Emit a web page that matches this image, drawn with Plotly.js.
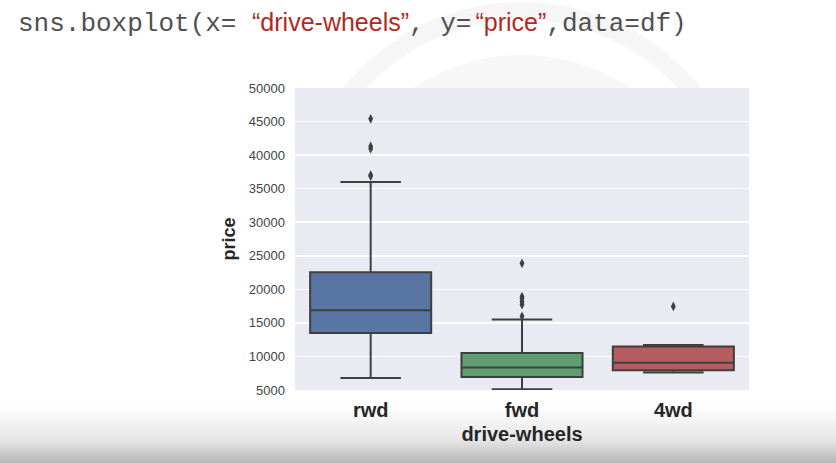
<!DOCTYPE html>
<html>
<head>
<meta charset="utf-8">
<script src="https://cdn.plot.ly/plotly-3.0.1.min.js"></script>
<style>
  html, body { margin: 0; padding: 0; background: #ffffff; }
  #wrap { position: relative; width: 836px; height: 463px; overflow: hidden;
          background: linear-gradient(to bottom, #ffffff 0px, #ffffff 405px, #e6e6e6 440px, #b6b6b6 463px); }
  #wm { position: absolute; left: 0; top: 0; width: 836px; height: 88px; overflow: hidden; }
  #ring { position: absolute; left: 292px; top: 2px; width: 424px; height: 424px; border-radius: 50%;
          border: 18px solid #f6f6f6; }
  #dome { position: absolute; left: 327px; top: 55px; width: 390px; height: 390px; border-radius: 50%;
          background: #f7f7f7; }
  #code { position: absolute; left: 18px; top: 7px; white-space: pre; line-height: 30px; }
  .mono { font-family: "Liberation Mono", "Courier New", monospace; font-size: 26px; color: #505050; }
  .str  { font-family: "Liberation Sans", Arial, sans-serif; font-size: 25px; color: #b02a22; }
  .gap  { display: inline-block; width: 4px; }
  #chart { position: absolute; left: 0; top: 0; width: 836px; height: 463px; }
</style>
</head>
<body>
<div id="wrap">
  <div id="wm"><div id="ring"></div><div id="dome"></div></div>
  <div id="code"><span class="mono">sns.boxplot(x= </span><span class="str">“drive-wheels”</span><span class="mono">, y=</span><span class="gap"></span><span class="str">“price”</span><span class="mono">,data=df)</span></div>
  <div id="chart"></div>
</div>
<script>
// ---- data ----
const categories = ["rwd", "fwd", "4wd"];
const lowerWhisker = [6800, 5118, 7603];
const q1Values     = [13500, 6950, 7950];
const medianValues = [16900, 8370, 9050];
const q3Values     = [22550, 10500, 11500];
const upperWhisker = [36000, 15510, 11694];
const outlierCats   = ["rwd", "rwd", "rwd", "rwd", "rwd",
                       "fwd", "fwd", "fwd", "fwd", "fwd", "fwd",
                       "4wd"];
const outlierPrices = [45400, 41315, 40960, 37028, 36880,
                       23875, 18920, 18620, 18150, 17710, 15985,
                       17450];
const yTicks = [5000, 10000, 15000, 20000, 25000, 30000, 35000, 40000, 45000, 50000];

// ---- styling ----
const fills = ["#5975a4", "#5f9e6e", "#b55d60"];
const lineCol = "#3f3f3f";

const traces = categories.map((c, i) => ({
  type: "box",
  x: [c],
  q1: [q1Values[i]],
  median: [medianValues[i]],
  q3: [q3Values[i]],
  lowerfence: [lowerWhisker[i]],
  upperfence: [upperWhisker[i]],
  boxpoints: false,
  width: 0.8,
  whiskerwidth: 0.5,
  fillcolor: fills[i],
  line: { color: lineCol, width: 2 },
  hoverinfo: "skip",
  showlegend: false
}));

traces.push({
  type: "scatter",
  mode: "markers",
  x: outlierCats,
  y: outlierPrices,
  marker: { symbol: "diamond-tall", size: 7, color: lineCol },
  hoverinfo: "skip",
  showlegend: false
});

const layout = {
  width: 836,
  height: 463,
  margin: { l: 295, r: 87, t: 88, b: 73 },
  paper_bgcolor: "rgba(0,0,0,0)",
  plot_bgcolor: "#eaeaf2",
  boxmode: "overlay",
  showlegend: false,
  xaxis: {
    type: "category",
    categoryorder: "array",
    categoryarray: categories,
    range: [-0.5, 2.5],
    showgrid: false,
    zeroline: false,
    showline: false,
    ticks: "",
    ticklabelstandoff: 6,
    tickfont: { family: "Liberation Sans, Arial, sans-serif", size: 20, color: "#262626", weight: "bold" },
    title: { text: "drive-wheels", standoff: 6,
             font: { family: "Liberation Sans, Arial, sans-serif", size: 20, color: "#262626", weight: "bold" } }
  },
  yaxis: {
    range: [5000, 50000],
    tickvals: yTicks,
    ticktext: yTicks.map(String),
    showgrid: true,
    gridcolor: "#ffffff",
    gridwidth: 1.5,
    zeroline: false,
    showline: false,
    ticks: "",
    ticklabelstandoff: 9,
    tickfont: { family: "Liberation Sans, Arial, sans-serif", size: 13, color: "#444444" },
    title: { text: "price", standoff: 8,
             font: { family: "Liberation Sans, Arial, sans-serif", size: 18, color: "#262626", weight: "bold" } }
  }
};

Plotly.newPlot("chart", traces, layout, { staticPlot: true, displayModeBar: false });
</script>
</body>
</html>
